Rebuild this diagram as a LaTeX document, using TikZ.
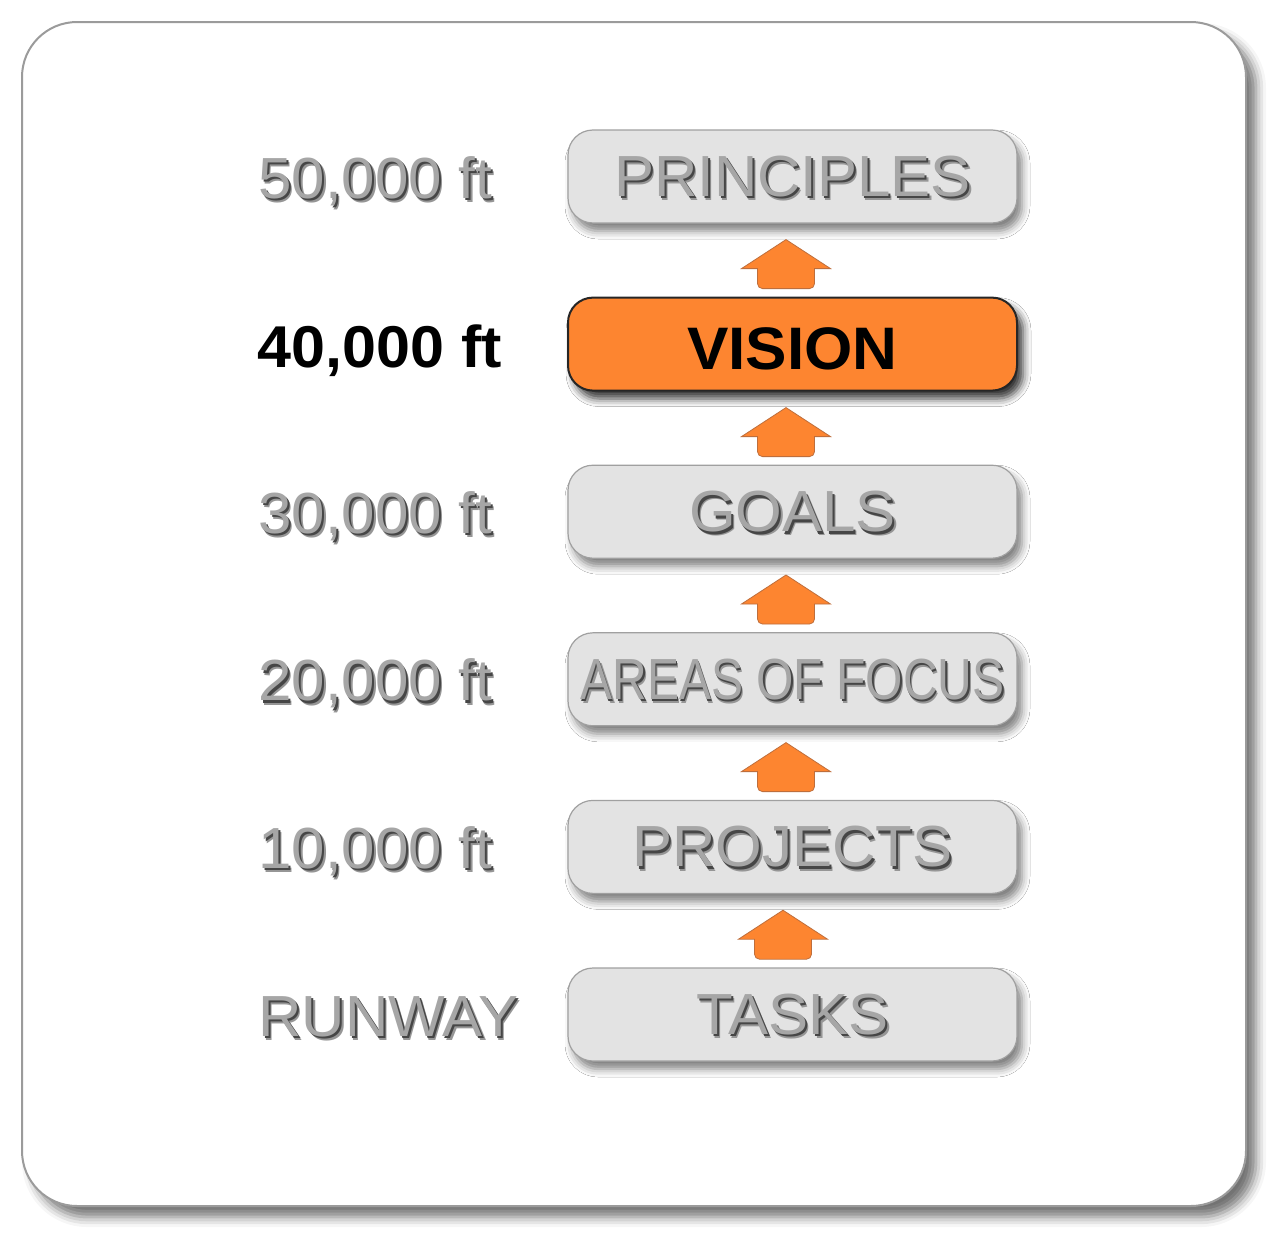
\documentclass[tikz,border=0pt]{standalone}
\usepackage{fontspec}
\setmainfont{Liberation Sans}[FakeStretch=1.035]
\usepackage{graphicx}
\usetikzlibrary{calc,shadows.blur}
\definecolor{boxfill}{RGB}{227,227,227}
\definecolor{boxline}{RGB}{160,160,160}
\definecolor{txtfg}{RGB}{166,166,166}
\definecolor{txtsha}{RGB}{70,70,70}
\definecolor{txtshb}{RGB}{150,150,150}
\definecolor{vorange}{RGB}{253,133,48}
\definecolor{arrline}{RGB}{190,110,60}
\definecolor{frameline}{RGB}{155,155,155}
\newcommand{\embossed}[1]{\rlap{\kern1.7pt\raisebox{-2.1pt}[0pt][0pt]{\color{txtshb}#1}}\rlap{\kern1pt\raisebox{-1.2pt}[0pt][0pt]{\color{txtsha}#1}}{\color{txtfg}#1}}
\tikzset{
  basebox/.style={rounded corners=12.5pt, minimum width=224.5pt, minimum height=46.5pt, inner sep=0pt},
  levelbox/.style={basebox, draw=boxline, line width=0.6pt, fill=boxfill,
    font=\fontsize{29}{34}\selectfont,
    blur shadow={shadow xshift=2.5pt, shadow yshift=-4pt, shadow blur radius=4pt, shadow opacity=50}},
  visionbox/.style={basebox, draw=black!85, line width=1pt, fill=vorange,
    font=\fontsize{30}{34}\selectfont\bfseries,
    blur shadow={shadow xshift=3pt, shadow yshift=-4pt, shadow blur radius=4pt, shadow opacity=80}},
  altlabel/.style={anchor=base west, inner sep=0pt, font=\fontsize{29}{34}\selectfont},
  framebox/.style={rounded corners=27.5pt, minimum width=612pt, minimum height=592pt, draw=frameline, line width=1pt, fill=white,
    blur shadow={shadow xshift=5pt, shadow yshift=-5.5pt, shadow blur radius=5pt, shadow opacity=55}},
  uparrow/.style={fill=vorange, draw=arrline, line width=0.4pt},
}
\begin{document}
\begin{tikzpicture}[x=0.5pt,y=-0.5pt]
\useasboundingbox (0,0) rectangle (1286,1242);
\node[framebox] (frame) at (634,614) {};
% level boxes
\node[levelbox] (principles) at (792.5,176.5) {\embossed{PRINCIPLES}};
\node[visionbox] (vision) at (792.5,344.1) {\raisebox{-2pt}[\height][0pt]{VISION}};
\node[levelbox] (goals) at (792.5,511.7) {\embossed{GOALS}};
\node[levelbox] (areas) at (792.5,679.3) {\scalebox{0.80}[1]{\embossed{AREAS OF FOCUS}}};
\node[levelbox] (projects) at (792.5,846.9) {\embossed{PROJECTS}};
\node[levelbox] (tasks) at (792.5,1014.5) {\embossed{TASKS}};
% altitude labels
\node[altlabel] (l50) at (258,198) {\embossed{50,000 ft}};
\node[altlabel, font=\fontsize{29.5}{34}\selectfont\bfseries] (l40) at (257,367) {40,000 ft};
\node[altlabel] (l30) at (258,533.2) {\embossed{30,000 ft}};
\node[altlabel] (l20) at (258,700.8) {\embossed{20,000 ft}};
\node[altlabel] (l10) at (258,868.4) {\embossed{10,000 ft}};
\node[altlabel] (lrw) at (258,1036) {\embossed{RUNWAY}};
% block arrows
\foreach \u/\l/\dx in {principles/vision/-6.5, vision/goals/-6.5, goals/areas/-6.5, areas/projects/-6.5, projects/tasks/-9.5}{
  \path[uparrow, shift={($(\u.south)!0.5!(\l.north)+(\dx,4)$)}]
    (0,-24.5) -- (44.5,4.5) -- (28.5,4.5) [rounded corners=2.5pt] -- (28.5,24.5) -- (-28.5,24.5) [sharp corners] -- (-28.5,4.5) -- (-44.5,4.5) -- cycle;
}
\end{tikzpicture}
\end{document}
